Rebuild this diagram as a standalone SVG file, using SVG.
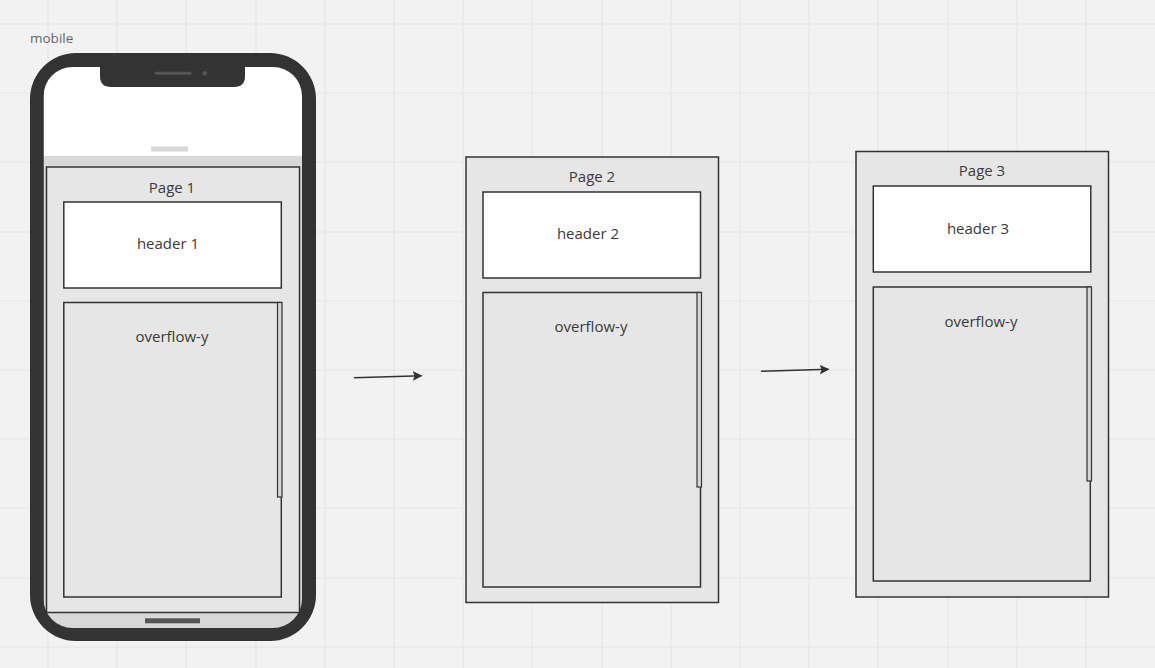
<svg xmlns="http://www.w3.org/2000/svg" width="1155" height="668" viewBox="0 0 1155 668">
<defs>
<style>
.grid{stroke:#e4e4e4;stroke-width:1;fill:none}
.frame{fill:#e6e6e6;stroke:#333;stroke-width:1.5}
.hdr{fill:#ffffff;stroke:#333;stroke-width:1.5}
.ovf{fill:#e6e6e6;stroke:#333;stroke-width:1.5}
.sb{fill:#d6d6d6;stroke:#333;stroke-width:1.2}
.t{font-family:"Open Sans","Liberation Sans",sans-serif;font-size:15px;fill:#3a3a3a;text-anchor:middle}
.conn{stroke:#333;stroke-width:1.5;fill:none}
</style>
<marker id="ah" viewBox="0 0 10 10" refX="9" refY="5" markerWidth="6.5" markerHeight="6.5" orient="auto" markerUnits="strokeWidth">
<path d="M0,0 L10,5 L0,10 L2,5 Z" fill="#333"/>
</marker>
<clipPath id="scr"><rect x="43.5" y="67" width="258.5" height="561" rx="29" ry="29"/></clipPath>
</defs>
<rect x="0" y="0" width="1155" height="668" fill="#f2f2f2"/>
<g id="grid" class="grid">
<path d="M48,0V668M117,0V668M186,0V668M256,0V668M325,0V668M394,0V668M463,0V668M532,0V668M602,0V668M671,0V668M740,0V668M809,0V668M878,0V668M948,0V668M1017,0V668M1086,0V668"/>
<path d="M0,24H1155M0,93H1155M0,162H1155M0,232H1155M0,301H1155M0,370H1155M0,439H1155M0,508H1155M0,578H1155M0,647H1155"/>
</g>
<text x="30" y="43" style="font-family:'Open Sans','Liberation Sans',sans-serif;font-size:13.5px;fill:#666">mobile</text>
<g id="phone">
<rect x="30" y="53" width="286" height="588" rx="46" ry="46" fill="#333"/>
<g clip-path="url(#scr)">
<rect x="43.5" y="67" width="258.5" height="89" fill="#fff"/>
<rect x="43.5" y="156" width="258.5" height="472" fill="#d8d8d8"/>
</g>
<path d="M100,66 V76 Q100,87 111,87 H234 Q245,87 245,76 V66 Z" fill="#333"/>
<line x1="156" y1="73.3" x2="190" y2="73.3" stroke="#555" stroke-width="3" stroke-linecap="round"/>
<circle cx="204.7" cy="73.3" r="2.4" fill="#555"/>
<rect x="151" y="146.5" width="37" height="5" fill="#d8d8d8"/>
<rect x="145" y="618.3" width="55" height="5" fill="#555"/>
</g>
<g id="page1">
<rect class="frame" x="46.5" y="167" width="253" height="445.5"/>
<text class="t" x="172" y="192.7">Page 1</text>
</g>
<g id="header1">
<rect class="hdr" x="63.8" y="202" width="217.5" height="86"/>
<text class="t" x="168" y="249.3">header 1</text>
</g>
<g id="overflow1">
<rect class="ovf" x="63.8" y="302.5" width="217.5" height="294.5"/>
<rect class="sb" x="277.5" y="302.5" width="4.5" height="194.5"/>
<text class="t" x="172" y="341.5">overflow-y</text>
</g>
<g id="page2">
<rect class="frame" x="466" y="157" width="252.5" height="445.5"/>
<text class="t" x="592" y="182.3">Page 2</text>
</g>
<g id="header2">
<rect class="hdr" x="483" y="192" width="217.5" height="86"/>
<text class="t" x="588" y="239.3">header 2</text>
</g>
<g id="overflow2">
<rect class="ovf" x="483" y="292.5" width="217.5" height="294.5"/>
<rect class="sb" x="697" y="292.5" width="4.5" height="194.5"/>
<text class="t" x="591" y="331.5">overflow-y</text>
</g>
<g id="page3">
<rect class="frame" x="856" y="151.5" width="252.5" height="445.5"/>
<text class="t" x="982" y="176.3">Page 3</text>
</g>
<g id="header3">
<rect class="hdr" x="873.3" y="186" width="217.5" height="86"/>
<text class="t" x="978" y="233.8">header 3</text>
</g>
<g id="overflow3">
<rect class="ovf" x="873.3" y="287" width="217" height="294"/>
<rect class="sb" x="1087" y="287" width="4.5" height="194"/>
<text class="t" x="981" y="326.5">overflow-y</text>
</g>
<g id="connectors">
<line class="conn" x1="354" y1="377.7" x2="421.5" y2="375.8" marker-end="url(#ah)"/>
<line class="conn" x1="761" y1="371.3" x2="828.5" y2="369.3" marker-end="url(#ah)"/>
</g>
</svg>
